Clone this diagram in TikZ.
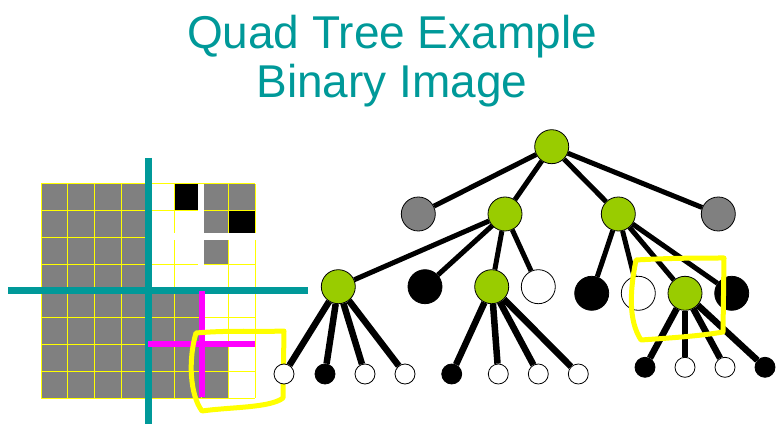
\documentclass[tikz,border=0pt]{standalone}
\usepackage{fontspec}
\setmainfont{Liberation Sans}
\definecolor{teal2}{RGB}{0,153,153}
\definecolor{lgreen}{RGB}{153,204,0}
\definecolor{gr}{RGB}{128,128,128}
\definecolor{yel}{RGB}{255,255,0}
\definecolor{mag}{RGB}{255,0,255}
\begin{document}
\begin{tikzpicture}[x=1pt,y=-1pt,
  big/.style={circle,draw=black,line width=0.8pt,minimum size=34pt,inner sep=0pt},
  small/.style={circle,draw=black,line width=0.8pt,minimum size=20pt,inner sep=0pt},
  gn/.style={big,fill=lgreen}, gy/.style={big,fill=gr}, bk/.style={big,fill=black}, wt/.style={big,fill=white},
  sb/.style={small,fill=black}, sw/.style={small,fill=white},
  edge/.style={line width=5pt}, ledge/.style={line width=6.5pt},
  hl/.style={draw=yel,line width=5pt,line join=round,line cap=round}]
\useasboundingbox (0,0) rectangle (784,427);
\node[text=teal2,font=\fontsize{46}{52}\selectfont] (t1) at (392,37) {Quad Tree Example};
\node[text=teal2,font=\fontsize{46}{52}\selectfont] (t2) at (392,86) {Binary Image};
% grid
\def\cw{26.75}
\foreach \r/\cols in {0/{0,1,2,3,6,7},1/{0,1,2,3,6},2/{0,1,2,3,6},3/{0,1,2,3},4/{0,1,2,3,4,5},5/{0,1,2,3,4,5},6/{0,1,2,3,4,5,6},7/{0,1,2,3,4,5,6}}{
  \foreach \c in \cols { \fill[gr] (41+\c*\cw,184+\r*\cw) rectangle ++(\cw,\cw); }
}
\fill[black] (41+5*\cw,184) rectangle ++(\cw,\cw);
\fill[black] (41+7*\cw,184+\cw) rectangle ++(\cw,\cw);
\foreach \i in {0,...,8}{
  \draw[yel,line width=1pt] (41+\i*\cw,184) -- (41+\i*\cw,398);
  \draw[yel,line width=1pt] (41,184+\i*\cw) -- (255,184+\i*\cw);
}
\fill[white] (198,184) rectangle (204,291);
\fill[white] (149,233) rectangle (256,240);
\draw[teal2,line width=7pt] (148.3,158) -- (148.3,424);
\draw[teal2,line width=7pt] (8,291) -- (308,291);
\draw[mag,line width=6pt] (201.7,291) -- (201.7,397);
\draw[mag,line width=6pt] (148,344) -- (255,344);
\draw[hl] (196,333) .. controls (230,330) and (260,332) .. (284,331) -- (283,398) .. controls (270,408) and (230,407) .. (202,411) .. controls (190,395) and (188,360) .. (196,333) -- cycle;
% tree
\node[gn] (r) at (551.7,146.7) {};
\node[gy] (a) at (418.3,214) {};
\node[gn] (b) at (505,214) {};
\node[gn] (c) at (618.3,214) {};
\node[gy] (d) at (718.3,214) {};
\node[gn] (b1) at (338.3,286.7) {};
\node[bk] (b2) at (425,286.7) {};
\node[gn] (b3) at (491.7,286.7) {};
\node[wt] (b4) at (538.3,286.7) {};
\node[bk] (c1) at (591.7,293.3) {};
\node[wt] (c2) at (638.3,293.3) {};
\node[gn] (c3) at (685,293.3) {};
\node[bk] (c4) at (731.7,293.3) {};
\node[sw] (e1) at (284,374) {};
\node[sb] (e2) at (325,374) {};
\node[sw] (e3) at (365,374) {};
\node[sw] (e4) at (405,374) {};
\node[sb] (f1) at (451.7,374) {};
\node[sw] (f2) at (498.3,374) {};
\node[sw] (f3) at (538.3,374) {};
\node[sw] (f4) at (578.3,374) {};
\node[sb] (g1) at (645,367.3) {};
\node[sw] (g2) at (685,367.3) {};
\node[sw] (g3) at (725,367.3) {};
\node[sb] (g4) at (765,367.3) {};
\foreach \x in {a,b,c,d} \draw[edge] (r) -- (\x);
\foreach \x in {b1,b2,b3,b4} \draw[edge] (b) -- (\x);
\foreach \x in {c1,c2,c3,c4} \draw[edge] (c) -- (\x);
\foreach \x in {e1,e2,e3,e4} \draw[ledge] (b1) -- (\x);
\foreach \x in {f1,f2,f3,f4} \draw[ledge] (b3) -- (\x);
\foreach \x in {g1,g2,g3,g4} \draw[ledge] (c3) -- (\x);
\draw[hl] (636,260) .. controls (670,258) and (700,258) .. (724,258) -- (723,332) .. controls (700,336) and (670,338) .. (641,340) .. controls (628,320) and (630,290) .. (636,260) -- cycle;
\end{tikzpicture}
\end{document}
